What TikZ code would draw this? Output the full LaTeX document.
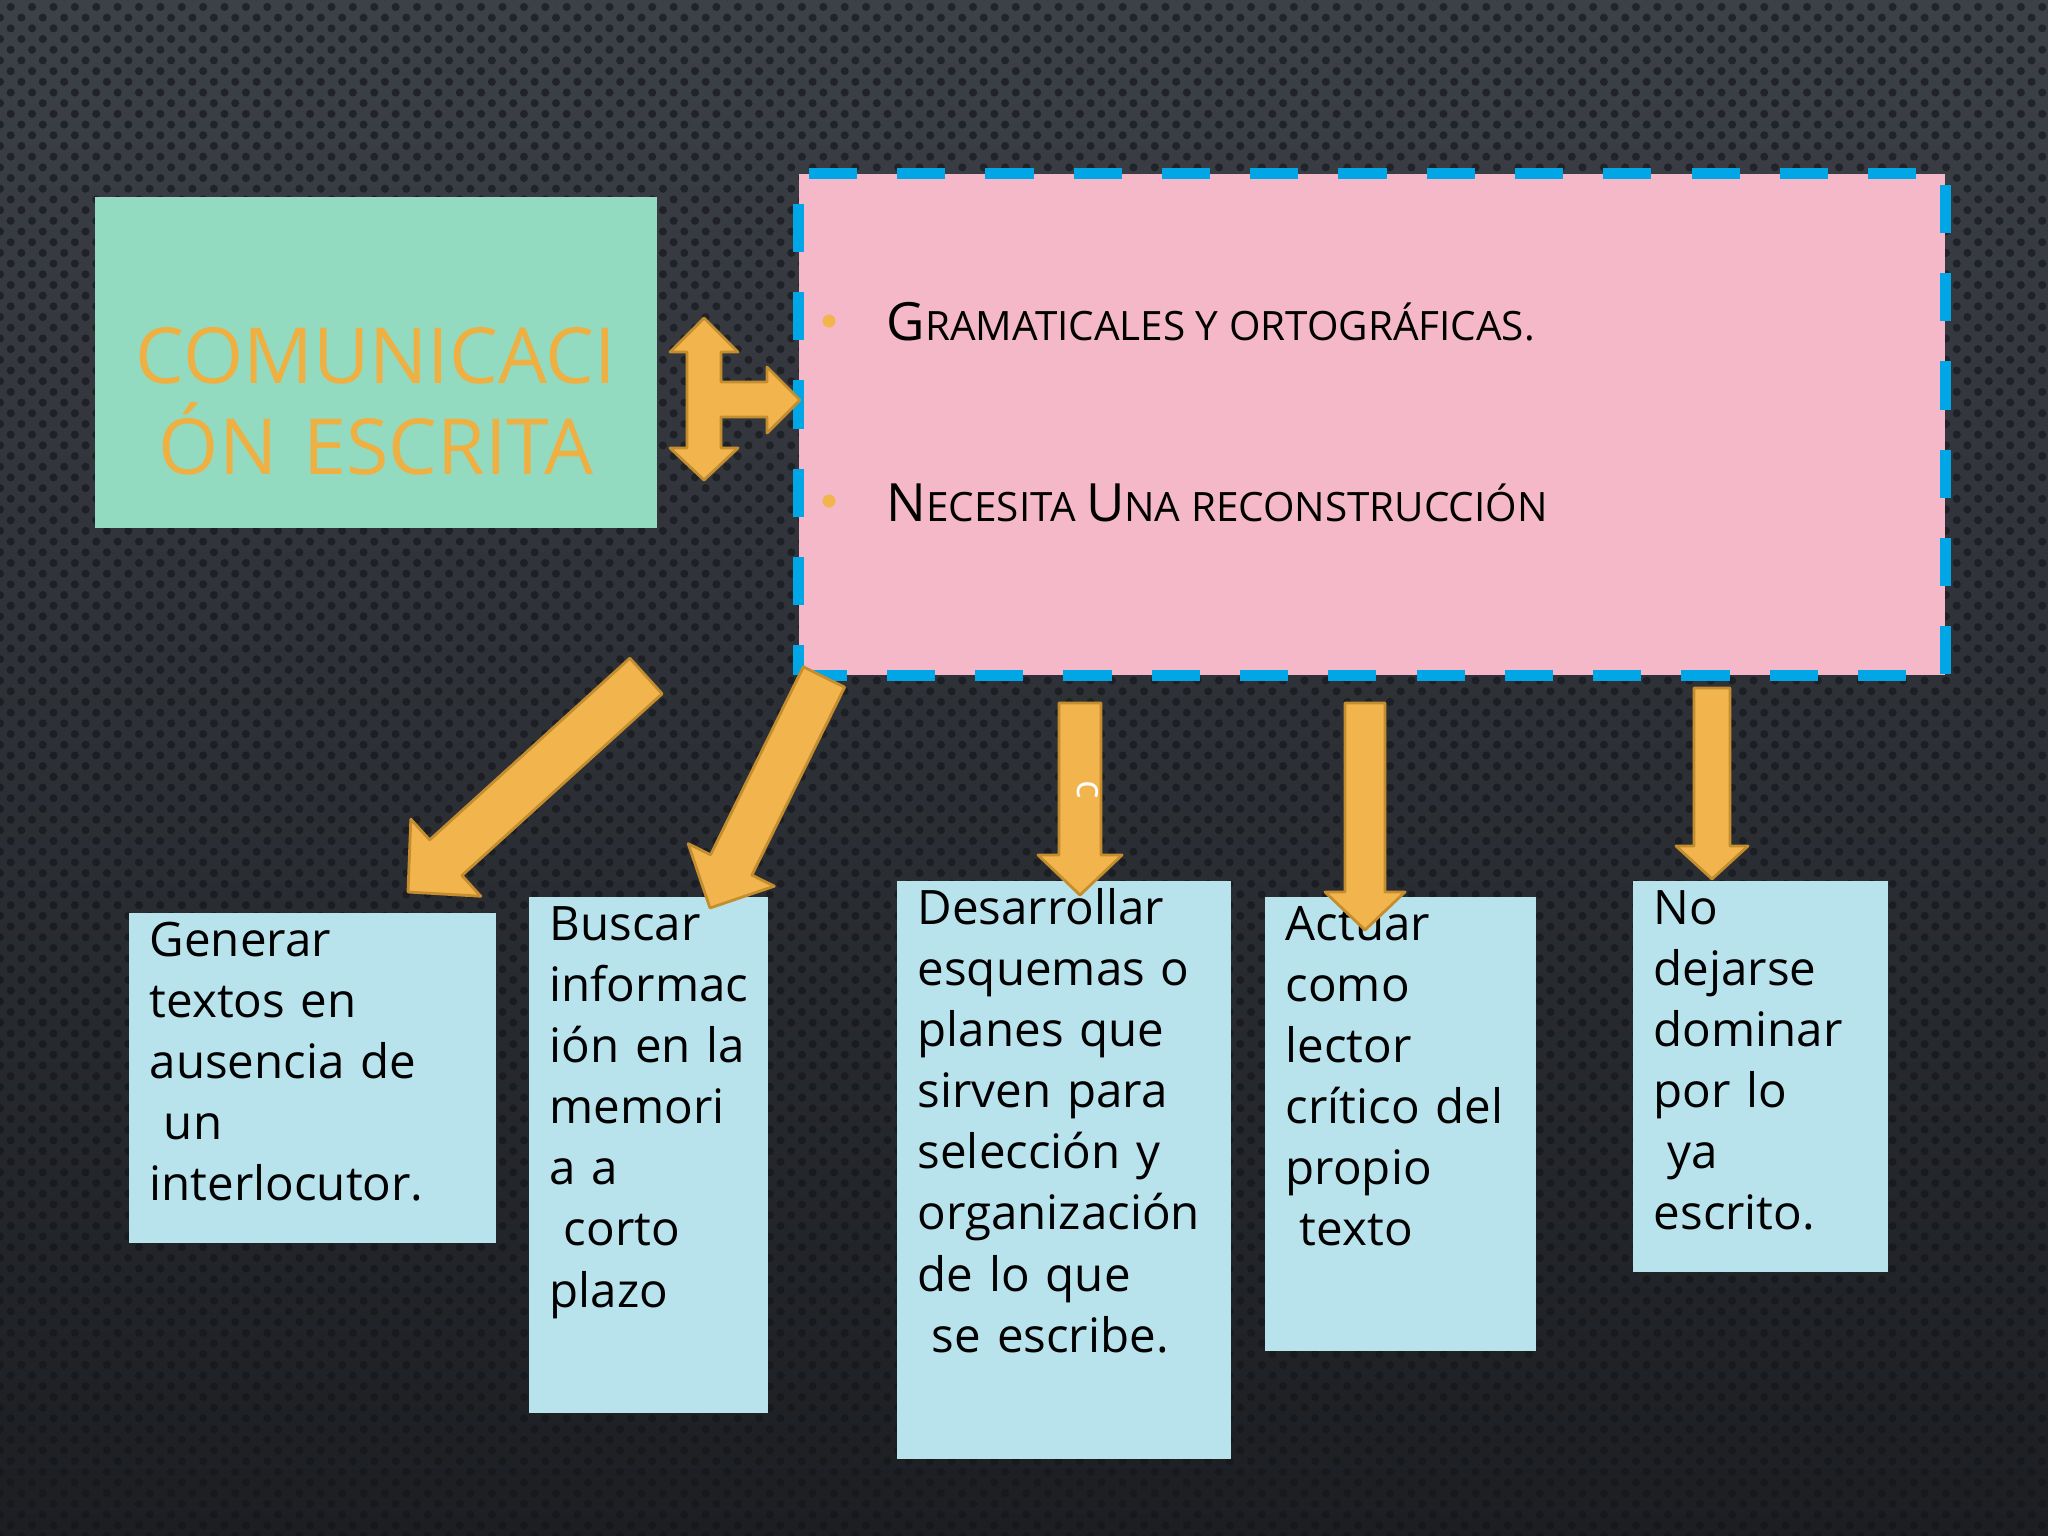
\documentclass[tikz,border=0pt]{standalone}
\usepackage{fontspec}
\setmainfont{Open Sans}
\usepackage{xcolor}
\usepackage{tikz}
\usetikzlibrary{arrows.meta,calc,positioning,patterns.meta}

\definecolor{bgtop}{HTML}{3C4047}
\definecolor{bgbot}{HTML}{1C1E22}
\definecolor{dotc}{HTML}{14161A}
\definecolor{mint}{HTML}{92DBC1}
\definecolor{rosa}{HTML}{F4B8C8}
\definecolor{dashblue}{HTML}{00A6E6}
\definecolor{celeste}{HTML}{B8E3EC}
\definecolor{naranja}{HTML}{F2B44C}
\definecolor{naranjaosc}{HTML}{C48D2E}
\definecolor{titletxt}{HTML}{EFB043}

% versalitas hechas a mano
\newcommand{\vsc}[2]{{\fontsize{15pt}{18pt}\selectfont #1}{\fontsize{11.5pt}{18pt}\selectfont #2}}

% flecha gruesa: inicio, fin, medio ancho, medio ancho punta, largo punta
\newcommand{\fatarrow}[5]{%
  \coordinate (fa-h) at ($(#2)!#5!(#1)$);
  \draw[blockarr] ($(#1)!#3!90:(#2)$) -- ($(fa-h)!#3!90:(#2)$) -- ($(fa-h)!#4!90:(#2)$) -- (#2)
    -- ($(fa-h)!#4!-90:(#2)$) -- ($(fa-h)!#3!-90:(#2)$) -- ($(#1)!#3!-90:(#2)$) -- cycle;
}

\tikzset{
  titlebox/.style={rectangle, fill=mint, inner sep=0pt},
  titletext/.style={text=titletxt, text width=5.6cm, align=center, inner sep=0pt,
    font=\fontsize{22pt}{25.9pt}\selectfont},
  pinkbox/.style={rectangle, fill=rosa, draw=dashblue, line width=3.1pt,
    dash pattern=on 13.7pt off 11.4pt, inner sep=0pt},
  dotb/.style={circle, fill=naranja, inner sep=0pt, minimum size=0.13cm},
  sctext/.style={text=black, inner sep=0pt, anchor=base west},
  lbox/.style={rectangle, fill=celeste, inner sep=0pt, anchor=north west},
  ltext/.style={text=black, inner sep=0pt, anchor=base west, text width=3.3cm, align=left,
    font=\fontsize{13.5pt}{17.4pt}\selectfont},
  blockarr/.style={fill=naranja, draw=naranjaosc, line width=0.8pt, line join=round}
}

\begin{document}
\begin{tikzpicture}[x=0.01cm, y=-0.01cm]
  % fondo
  \shade[top color=bgtop, bottom color=bgbot] (0,0) rectangle (2048,1536);
  \fill[pattern={Dots[distance=4.3pt, radius=1.15pt, angle=45]}, pattern color=dotc, opacity=.65]
    (0,0) rectangle (2048,1536);
  \useasboundingbox (0,0) rectangle (2048,1536);

  \node[titlebox, minimum width=5.62cm, minimum height=3.31cm] (com) at (376,362.5) {};
  \node[titletext, anchor=base] (comt) at (376,383) {COMUNICACI\\ÓN ESCRITA};

  \node[pinkbox, minimum width=11.46cm, minimum height=5.01cm] (rec) at (1372,424.5) {};
  \node[dotb] (b1) at (829,321) {};
  \node[dotb] (b2) at (829,501) {};
  \node[sctext] (gram) at (886,340) {\vsc{G}{RAMATICALES Y ORTOGRÁFICAS.}};
  \node[sctext] (nec) at (886,521) {\vsc{N}{ECESITA }\vsc{U}{NA RECONSTRUCCIÓN}};

  % cajas de abajo
  \node[lbox, minimum width=3.67cm, minimum height=3.30cm] (gen) at (128,912) {};
  \node[lbox, minimum width=2.39cm, minimum height=5.16cm] (bus) at (528,896) {};
  \node[lbox, minimum width=3.34cm, minimum height=5.78cm] (des) at (896,880) {};
  \node[lbox, minimum width=2.71cm, minimum height=4.54cm] (act) at (1264,896) {};
  \node[lbox, minimum width=2.55cm, minimum height=3.91cm] (nod) at (1632,880) {};

  \node[ltext] (gent) at ($(gen.north west)+(21,44)$)
    {Generar\\textos en\\ausencia de\\\hspace*{.3em}un\\interlocutor.};
  \node[ltext] (bust) at ($(bus.north west)+(21,44)$)
    {Buscar\\informac\\ión en la\\memori\\a a\\\hspace*{.3em}corto\\plazo};
  \node[ltext] (dest) at ($(des.north west)+(21,44)$)
    {Desarrollar\\esquemas o\\planes que\\sirven para\\selección y\\organización\\de lo que\\\hspace*{.3em}se escribe.};
  \node[ltext] (actt) at ($(act.north west)+(21,44)$)
    {Actuar\\como\\lector\\crítico del\\propio\\\hspace*{.3em}texto};
  \node[ltext] (nodt) at ($(nod.north west)+(21,44)$)
    {No\\dejarse\\dominar\\por lo\\\hspace*{.3em}ya\\escrito.};

  % flecha de tres puntas
  \begin{scope}[shift={(704,400)}]
    \draw[blockarr] (0,-82) -- (34,-48) -- (17,-48) -- (17,-18) -- (63,-18) -- (63,-33) -- (96,0)
      -- (63,33) -- (63,17) -- (17,17) -- (17,48) -- (34,48) -- (0,80) -- (-34,48) -- (-17,48)
      -- (-17,-48) -- (-34,-48) -- cycle;
  \end{scope}

  % flechas hacia las cajas
  \coordinate (a1s) at (646,676); \coordinate (a1e) at (408,892);
  \coordinate (a2s) at (824,677); \coordinate (a2e) at (710,908);
  \coordinate (a3s) at (1080,703); \coordinate (a3e) at (1080,895);
  \coordinate (a4s) at (1365,703); \coordinate (a4e) at (1365,930);
  \coordinate (a5s) at (1712,688); \coordinate (a5e) at (1712,879);
  \fatarrow{a1s}{a1e}{0.24cm}{0.52cm}{0.51cm}
  \fatarrow{a2s}{a2e}{0.23cm}{0.48cm}{0.48cm}
  \fatarrow{a3s}{a3e}{0.21cm}{0.42cm}{0.40cm}
  \fatarrow{a4s}{a4e}{0.20cm}{0.40cm}{0.38cm}
  \fatarrow{a5s}{a5e}{0.18cm}{0.36cm}{0.33cm}

  \node[text=white, rotate=-90, inner sep=0pt, font=\fontsize{11pt}{13pt}\selectfont] (cc) at (1088,790) {c};
\end{tikzpicture}
\end{document}
